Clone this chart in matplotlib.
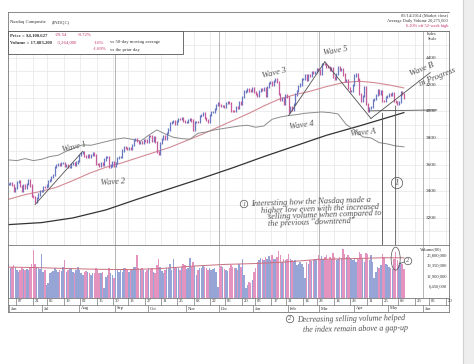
#!/usr/bin/env python3
"""Nasdaq Composite daily chart with hand-written Elliott wave notes."""

import numpy as np
import pandas as pd
import matplotlib
matplotlib.use("Agg")
import matplotlib.pyplot as plt
import matplotlib.transforms as mtransforms
from matplotlib.lines import Line2D
from matplotlib.patches import Ellipse

W, H = 474, 364

HOLIDAYS = ["2013-07-04", "2013-09-02", "2013-11-28", "2013-12-25", "2014-01-01",
            "2014-01-20", "2014-02-17", "2014-04-18", "2014-05-26", "2014-07-04"]

# daily closes, 2013-05-31 .. 2014-05-14
close_may13 = [3456]
close_jun13 = [3465, 3445, 3402, 3424, 3469, 3474, 3437, 3401, 3445, 3424,
               3453, 3482, 3443, 3365, 3357, 3320, 3348, 3376, 3401, 3403]
close_jul13 = [3434, 3433, 3443, 3479, 3485, 3504, 3520, 3579, 3600, 3607, 3598,
               3610, 3611, 3587, 3600, 3579, 3579, 3605, 3613, 3599, 3616, 3626]
close_aug13 = [3675, 3689, 3693, 3665, 3654, 3669, 3660, 3669, 3684, 3670, 3607,
               3602, 3589, 3613, 3599, 3638, 3657, 3657, 3579, 3593, 3620, 3590]
close_sep13 = [3613, 3649, 3658, 3660, 3706, 3729, 3725, 3715, 3722, 3717,
               3745, 3783, 3789, 3774, 3765, 3768, 3761, 3787, 3781, 3771]
close_oct13 = [3817, 3815, 3775, 3808, 3770, 3694, 3678, 3760, 3792, 3815, 3794, 3839,
               3863, 3915, 3921, 3929, 3907, 3928, 3943, 3940, 3952, 3930, 3920]
close_nov13 = [3922, 3937, 3940, 3931, 3858, 3919, 3920, 3919, 3966, 3973,
               3986, 3950, 3932, 3921, 3969, 3992, 3995, 4017, 4045, 4060]
close_dec13 = [4045, 4038, 4038, 4033, 4063, 4069, 4060, 4004, 4003, 4001, 4029,
               4023, 4070, 4058, 4104, 4148, 4155, 4167, 4156, 4154, 4177]
close_jan14 = [4143, 4132, 4114, 4153, 4165, 4157, 4175, 4114, 4183, 4215, 4219,
               4197, 4226, 4243, 4218, 4128, 4083, 4097, 4052, 4124, 4104]
close_feb14 = [3997, 4031, 4012, 4057, 4126, 4149, 4191, 4201, 4240, 4244,
               4273, 4238, 4268, 4263, 4292, 4287, 4292, 4318, 4308]
close_mar14 = [4277, 4352, 4357, 4352, 4336, 4335, 4307, 4323, 4260, 4245, 4279,
               4333, 4307, 4319, 4276, 4226, 4234, 4173, 4151, 4155, 4199]
close_apr14 = [4268, 4276, 4238, 4127, 4079, 4113, 4183, 4054, 3999, 4022, 4034,
               4086, 4095, 4121, 4161, 4127, 4148, 4076, 4074, 4104, 4115]
close_may14 = [4127, 4123, 4138, 4080, 4068, 4052, 4071, 4144, 4130, 4101]

# daily volume (millions, chart units)
vol_may13 = [20.5]
vol_jun13 = [18.5, 19, 20, 19, 17, 16, 17, 18, 17.5, 17,
             17.5, 17, 19, 21, 29, 21, 19, 18, 17.5, 27]
vol_jul13 = [16, 17, 8, 9, 15, 16, 16.5, 18, 17, 16, 17,
             16.5, 19, 23, 16, 17, 18, 18.5, 16, 15.5, 17, 19]
vol_aug13 = [17, 15.5, 14, 16, 16.5, 16, 15, 14, 15.5, 15, 18.5,
             17, 15, 15.5, 16, 6, 13, 14, 18.5, 15, 14, 12]
vol_sep13 = [17, 17.5, 16, 17, 16, 18.5, 18, 17.5, 16, 17.5,
             17, 19, 19, 26.5, 18, 17.5, 18, 17, 16, 17]
vol_oct13 = [18, 17.5, 18.5, 16, 15.5, 20, 23.5, 19, 16.5, 15, 17, 18,
             18.5, 20.5, 17, 23.5, 19, 18.5, 18, 17, 19, 21, 20]
vol_nov13 = [17.5, 18, 24.5, 19, 22, 19.5, 14, 17, 18, 18.5,
             19.5, 19, 18, 17, 18, 17, 17.5, 18.5, 16, 7]
vol_dec13 = [18, 19.5, 19, 17.5, 17, 16.5, 18, 20, 19, 18.5, 18,
             17, 21, 19, 24, 14, 6, 8, 10, 9, 11]
vol_jan14 = [16, 18, 22, 23, 24.5, 24, 23, 25, 24, 25.5, 23,
             26, 24, 23.5, 25, 28.5, 26, 22, 24, 23, 23.5]
vol_feb14 = [27, 24, 23, 22, 23, 20, 21, 22, 21, 19,
             12, 22, 21, 23, 22.5, 23, 24, 23, 26]
vol_mar14 = [24, 25.5, 24, 25, 26.5, 23, 25, 24, 27.5, 25, 23,
             24, 25, 24.5, 30, 27, 25, 26.5, 25, 24, 23]
vol_apr14 = [23.5, 22, 24, 28, 27, 24, 22, 27.5, 27, 23, 26,
             22, 12, 16, 19, 18.5, 20, 27, 25, 21, 20]
vol_may14 = [19, 18.5, 17.5, 23.5, 28, 23, 20, 22, 21, 17.9]

# smooth overlays
ma50_dates = ["2013-05-31", "2013-06-14", "2013-06-28", "2013-07-12", "2013-07-26",
              "2013-08-09", "2013-08-23", "2013-09-06", "2013-09-20", "2013-10-04",
              "2013-10-18", "2013-11-01", "2013-11-15", "2013-11-29", "2013-12-13",
              "2013-12-27", "2014-01-10", "2014-01-24", "2014-02-07", "2014-02-21",
              "2014-03-07", "2014-03-21", "2014-04-04", "2014-04-17", "2014-05-02",
              "2014-05-14"]
ma50_vals = [3340, 3375, 3400, 3430, 3480, 3535, 3580, 3610, 3650, 3690, 3730, 3780,
             3830, 3880, 3935, 3985, 4040, 4090, 4125, 4150, 4185, 4215, 4225, 4215,
             4195, 4175]
ma200_dates = ["2013-05-31", "2013-06-28", "2013-07-26", "2013-08-23", "2013-09-20",
               "2013-10-18", "2013-11-15", "2013-12-13", "2014-01-10", "2014-02-07",
               "2014-03-07", "2014-04-04", "2014-05-02", "2014-05-14"]
ma200_vals = [3150, 3165, 3200, 3260, 3340, 3420, 3500, 3580, 3660, 3740, 3820, 3890,
              3960, 3990]
# relative strength line, weekly (plotted on the index scale)
rs_vals = [3635, 3630, 3645, 3630, 3640, 3660, 3670, 3700, 3725, 3748, 3745, 3760,
           3775, 3790, 3800, 3790, 3775, 3820, 3860, 3830, 3805, 3795, 3790, 3835,
           3845, 3860, 3870, 3880, 3890, 3895, 3880, 3890, 3940, 3957, 3968, 3975,
           3985, 3990, 3995, 3990, 3980, 3900, 3860, 3808, 3800, 3765, 3755, 3740,
           3733]
volavg_dates = ["2013-05-31", "2013-06-21", "2013-07-19", "2013-08-16", "2013-09-13",
                "2013-10-11", "2013-11-08", "2013-12-06", "2014-01-03", "2014-01-31",
                "2014-02-28", "2014-03-28", "2014-04-25", "2014-05-14"]
volavg_vals = [18.8, 18.6, 18.0, 17.5, 17.3, 18.0, 19.5, 20.5, 21.0, 22.0, 23.5, 24.0,
               24.5, 24.5]

price_ticks = [3200, 3400, 3600, 3800, 4000, 4200, 4400]
vol_ticks = [6.45, 12.9, 19.35, 25.8]
vol_tick_labels = ["6,450,000", "12,900,000", "19,350,000", "25,800,000"]

UP = "#6a78c2"
DOWN = "#c65c98"
VUP = "#97a5d6"
VDOWN = "#e393bd"
HAND = "#505050"
RED = "#c0306a"
SERIF = "Liberation Serif"


def main():
    cal = pd.offsets.CustomBusinessDay(holidays=HOLIDAYS)
    days = pd.date_range("2013-05-31", "2014-07-15", freq=cal)

    def pos(d):
        return days.get_indexer([pd.Timestamp(d)])[0]

    close = np.array(close_may13 + close_jun13 + close_jul13 + close_aug13 + close_sep13
                     + close_oct13 + close_nov13 + close_dec13 + close_jan14 + close_feb14
                     + close_mar14 + close_apr14 + close_may14, dtype=float)
    vol = np.array(vol_may13 + vol_jun13 + vol_jul13 + vol_aug13 + vol_sep13 + vol_oct13
                   + vol_nov13 + vol_dec13 + vol_jan14 + vol_feb14 + vol_mar14
                   + vol_apr14 + vol_may14, dtype=float)
    n = len(close)
    x = np.arange(n)
    prev = np.r_[close[0], close[:-1]]
    up = close >= prev

    fig = plt.figure(figsize=(W / 100, H / 100), dpi=100)
    fig.patch.set_facecolor("white")

    def fx(px):
        return px / W

    def fy(py):
        return 1 - py / H

    def ptext(px, py, s, **kw):
        kw.setdefault("family", SERIF)
        kw.setdefault("fontsize", 3.4)
        kw.setdefault("color", "#333")
        fig.text(fx(px), fy(py), s, **kw)

    def pline(xs, ys, **kw):
        kw.setdefault("color", HAND)
        kw.setdefault("lw", 0.6)
        fig.add_artist(Line2D([fx(v) for v in xs], [fy(v) for v in ys], **kw))

    # paper edge on the right
    fig.add_artist(plt.Rectangle((fx(463), 0), 1 - fx(463), 1, color="#eeeeee", lw=0))
    pline([463, 463], [0, H], color="#d0d0d0", lw=0.8)

    x0, x1 = -0.4, 267.4
    ax = fig.add_axes([fx(8), fy(245), fx(441), (245 - 31) / H])
    axv = fig.add_axes([fx(8), fy(298), fx(441), (298 - 245) / H])
    axd = fig.add_axes([fx(8), fy(312), fx(441), (312 - 298) / H])

    biweekly = [pos(d) for d in pd.date_range("2013-06-07", "2014-06-20", freq="14D")]
    month_starts = [int(np.searchsorted(days, d)) for d in
                    pd.date_range("2013-06-01", "2014-07-01", freq="MS")]
    quarters = [month_starts[i] for i in (3, 6, 9, 12)]

    # ---- price panel
    ax.set_xlim(x0, x1)
    ax.set_ylim(2997, 4602)
    for v in range(3000, 4601, 100):
        ax.axhline(v, color="#e6e6e6", lw=0.5, zorder=0)
    for b in biweekly:
        ax.axvline(b - 0.5, color="#e6e6e6", lw=0.5, zorder=0)
    for q in quarters:
        ax.axvline(q - 0.5, color="#b5b5b5", lw=0.7, zorder=0)

    lo = np.minimum(prev, close) - 8
    hi = np.maximum(prev, close) + 8
    ax.vlines(x[up], lo[up], hi[up], color=UP, lw=0.9, zorder=3)
    ax.vlines(x[~up], lo[~up], hi[~up], color=DOWN, lw=0.9, zorder=3)

    ax.plot([pos(d) for d in ma50_dates], ma50_vals, color="#d48a94", lw=0.8, zorder=2)
    ax.plot([pos(d) for d in ma200_dates], ma200_vals, color="#333", lw=0.9, zorder=2)
    ax.plot(np.arange(len(rs_vals)) * 5, rs_vals, color="#8c8c8c", lw=0.7, zorder=2)

    blend = mtransforms.blended_transform_factory(ax.transAxes, ax.transData)
    for t in price_ticks:
        ax.text(0.959, t, str(t), transform=blend, ha="center", va="center",
                fontsize=3.8, family=SERIF, color="#333")
    ax.set_xticks([])
    ax.set_yticks([])
    for sp in ax.spines.values():
        sp.set_color("#777")
        sp.set_linewidth(0.6)

    # ---- volume panel
    axv.set_xlim(x0, x1)
    axv.set_ylim(0, 32.3)
    for q in quarters:
        axv.axvline(q - 0.5, color="#b5b5b5", lw=0.7, zorder=0)
    axv.bar(x[up], vol[up], width=0.9, color=VUP, lw=0, zorder=2)
    axv.bar(x[~up], vol[~up], width=0.9, color=VDOWN, lw=0, zorder=2)
    axv.plot([pos(d) for d in volavg_dates], volavg_vals, color="#c9707f", lw=0.7,
             zorder=3)
    vblend = mtransforms.blended_transform_factory(axv.transAxes, axv.transData)
    for t, lab in zip(vol_ticks, vol_tick_labels):
        axv.text(0.995, t, lab, transform=vblend, ha="right", va="center",
                 fontsize=3.3, family=SERIF, color="#333")
    axv.text(0.96, 0.93, "Volume(00)", transform=axv.transAxes, ha="center",
             va="center", fontsize=3.3, family=SERIF, color="#333")
    axv.set_xticks([])
    axv.set_yticks([])
    for sp in axv.spines.values():
        sp.set_color("#777")
        sp.set_linewidth(0.6)

    # ---- date strip
    axd.set_xlim(x0, x1)
    axd.set_ylim(0, 2)
    axd.axhline(1, color="#777", lw=0.5)
    for b in biweekly:
        axd.plot([b - 0.5, b - 0.5], [1, 2], color="#777", lw=0.5)
        axd.text(b + 0.6, 1.5, days[b].strftime("%d"), ha="left", va="center",
                 fontsize=3.3, family=SERIF, color="#333")
    for m in month_starts:
        axd.plot([m - 0.5, m - 0.5], [0, 1], color="#777", lw=0.5)
        if m < x1 - 3:
            axd.text(m + 0.6, 0.5, days[m].strftime("%b"), ha="left", va="center",
                     fontsize=3.3, family=SERIF, color="#333")
    axd.set_xticks([])
    axd.set_yticks([])
    for sp in axd.spines.values():
        sp.set_color("#777")
        sp.set_linewidth(0.6)

    # ---- header
    pline([8, 449], [12, 12], color="#777", lw=0.6)
    pline([8, 449], [31, 31], color="#777", lw=0.6)
    pline([8, 8], [12, 31], color="#777", lw=0.6)
    ptext(10, 22, "Nasdaq Composite", va="center")
    ptext(52, 22, "(INDQC)", va="center")
    ptext(448, 15, "05/14/2014 (Market close)", ha="right", va="center", fontsize=3.2)
    ptext(448, 20.5, "Average Daily Volume 20,275,000", ha="right", va="center",
          fontsize=3.2)
    ptext(448, 26, "6.20% off 52-week high", ha="right", va="center", color=RED,
          fontsize=3.2)
    ptext(432, 34, "Index", ha="center", va="center", fontsize=3.2)
    ptext(432, 39, "Scale", ha="center", va="center", fontsize=3.2)

    fig.add_artist(plt.Rectangle((fx(8), fy(54)), fx(175), (54 - 31) / H,
                                 fc="white", ec="#555", lw=0.6, zorder=5))
    ptext(10, 35.5, "Price = $4,100.627", va="center", weight="bold", zorder=6)
    ptext(55, 35.5, "-29.54", va="center", color=RED, zorder=6)
    ptext(78, 35.5, "-0.72%", va="center", color=RED, zorder=6)
    ptext(10, 42.5, "Volume = 17,883,200", va="center", weight="bold", zorder=6)
    ptext(57, 42.5, "-3,264,000", va="center", color=RED, zorder=6)
    ptext(94, 42.5, "-16%", va="center", color=RED, zorder=6)
    ptext(110, 42.5, "vs 50-day moving average", va="center", zorder=6)
    ptext(93, 49.5, "-1.89%", va="center", color=RED, zorder=6)
    ptext(110, 49.5, "vs the prior day", va="center", zorder=6)

    # ---- handwritten notes
    hw = dict(family=SERIF, style="italic", color=HAND, fontsize=6, ha="center",
              va="center")
    ptext(74, 147, "Wave 1", rotation=14, **hw)
    ptext(113, 182, "Wave 2", rotation=4, **hw)
    ptext(274, 73, "Wave 3", rotation=14, **hw)
    ptext(302, 125, "Wave 4", rotation=8, **hw)
    ptext(336, 51, "Wave 5", rotation=10, **hw)
    ptext(363, 133, "Wave A", rotation=6, **hw)
    ptext(422, 69, "Wave B", rotation=22, **hw)
    ptext(437, 77, "in Progress", rotation=22, **hw)

    def dline(d0, p0, d1, p1, **kw):
        ax.plot([pos(d0), pos(d1)], [p0, p1], color=HAND, lw=0.6, zorder=4, **kw)

    dline("2013-06-24", 3300, "2013-08-05", 3700)
    dline("2014-02-03", 3968, "2014-03-06", 4371)
    dline("2014-03-06", 4371, "2014-04-15", 3946)
    dline("2014-04-15", 3946, "2014-06-06", 4290)
    dline("2014-04-14", 4003, "2014-06-12", 4010)

    for d, top in (("2014-04-25", 3985), ("2014-05-07", 4040)):
        ax.annotate("", xy=(pos(d), 27), xycoords=axv.transData,
                    xytext=(pos(d), top), textcoords=ax.transData,
                    arrowprops=dict(arrowstyle="-|>", color=HAND, lw=0.6,
                                    mutation_scale=4, shrinkA=0, shrinkB=0),
                    zorder=6)

    # circle round the gap-up volume bar
    axv.add_patch(Ellipse((pos("2014-05-07"), 24), 5.5, 14, fc="none", ec=HAND,
                          lw=0.5, zorder=5))
    pline([399, 404], [264, 262], lw=0.5)

    circ = dict(boxstyle="circle,pad=0.2", fc="none", ec=HAND, lw=0.5)
    ptext(397, 183, "1", bbox=circ, **hw)
    ptext(244, 204, "1", bbox=circ, **{**hw, "fontsize": 4.5})
    note = dict(hw, ha="left", fontsize=6.1, rotation=2)
    ptext(251, 202, "Interesting how the Nasdaq made a", **note)
    ptext(261, 209, "higher low even with the increased", **note)
    ptext(268, 215.5, "selling volume when compared to", **note)
    ptext(268, 222.5, "the previous \"downtrend\"", **note)

    ptext(408, 261, "2", bbox=circ, **{**hw, "fontsize": 4.5})
    ptext(290, 319, "2", bbox=circ, **{**hw, "fontsize": 4.5})
    note2 = dict(hw, ha="left", fontsize=5.8, rotation=1)
    ptext(297, 319, "Decreasing selling volume helped", **note2)
    ptext(303, 329, "the index remain above a gap-up", **note2)

    fig.savefig("out.png", dpi=100, facecolor="white")
    plt.close(fig)


if __name__ == "__main__":
    main()
